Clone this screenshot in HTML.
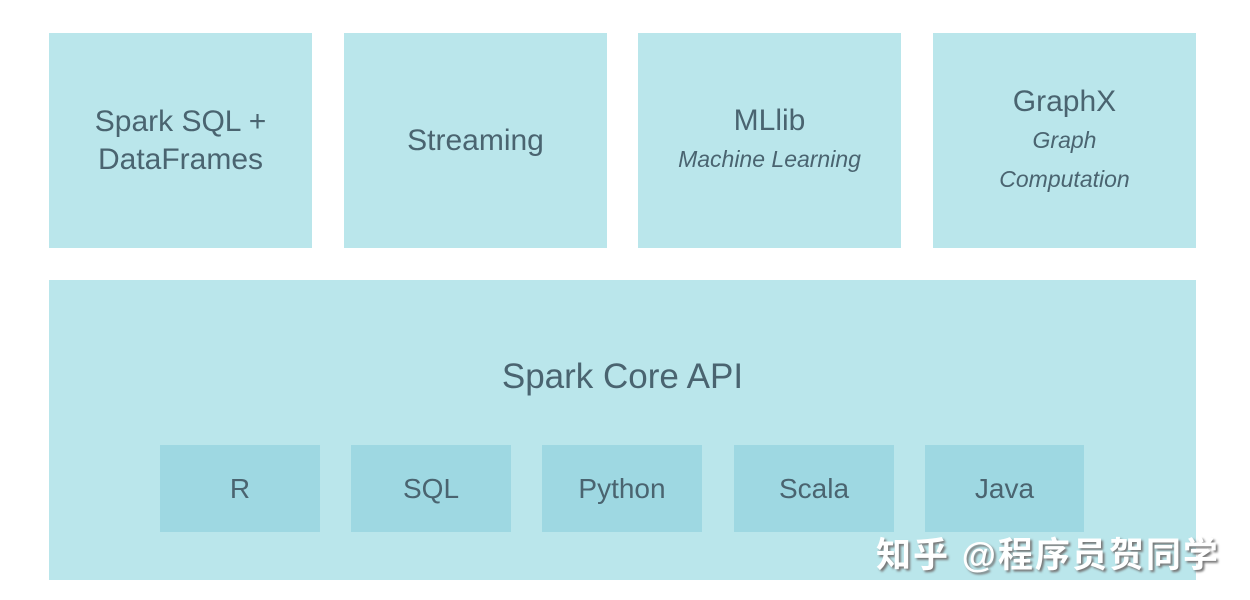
<!DOCTYPE html>
<html><head><meta charset="utf-8"><style>
body{margin:0;width:1250px;height:600px;background:#fff;position:relative;overflow:hidden;font-family:"Liberation Sans",sans-serif;color:#4a6470}
.b{position:absolute;background:#bae6eb;display:flex;flex-direction:column;align-items:center;justify-content:center;text-align:center;font-size:30px;line-height:38px}
.i{position:absolute;background:#9ed8e2;display:flex;align-items:center;justify-content:center;font-size:28px;top:445px;height:87px;width:160px}
em{font-size:23px;line-height:39px}
</style></head><body>
<div class="b" style="left:49px;top:33px;width:263px;height:215px">Spark SQL +<br>DataFrames</div>
<div class="b" style="left:344px;top:33px;width:263px;height:215px">Streaming</div>
<div class="b" style="left:638px;top:33px;width:263px;height:215px">MLlib<em>Machine Learning</em></div>
<div class="b" style="left:933px;top:33px;width:263px;height:215px">GraphX<em>Graph<br>Computation</em></div>
<div class="b" style="left:49px;top:280px;width:1147px;height:300px;justify-content:flex-start"><div style="margin-top:78px;font-size:35px">Spark Core API</div></div>
<div class="i" style="left:160px">R</div>
<div class="i" style="left:351px">SQL</div>
<div class="i" style="left:542px">Python</div>
<div class="i" style="left:734px">Scala</div>
<div class="i" style="left:925px;width:159px">Java</div>
<div style="position:absolute;left:876px;top:527px;font-size:35px;letter-spacing:2px;color:#fff;font-family:'Liberation Sans','Noto Sans CJK SC',sans-serif;text-shadow:2px 2px 2px #777;font-weight:bold">知乎 @程序员贺同学</div>
</body></html>
